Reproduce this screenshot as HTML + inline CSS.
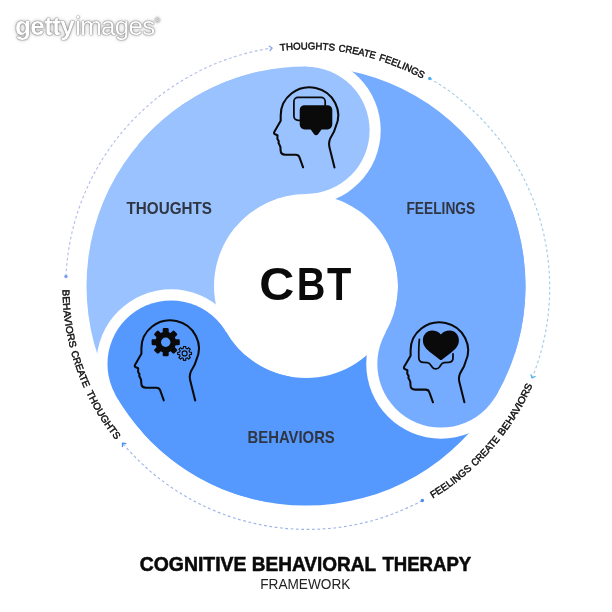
<!DOCTYPE html>
<html><head><meta charset="utf-8"><title>CBT</title>
<style>
html,body{margin:0;padding:0;background:#fff;}
body{width:612px;height:612px;overflow:hidden;position:relative;font-family:"Liberation Sans",sans-serif;}
svg{position:absolute;left:0;top:0;will-change:transform;}
svg text{font-family:"Liberation Sans",sans-serif;}
.wm{position:absolute;left:15px;top:6px;font-size:26px;line-height:30px;color:#fff;letter-spacing:-0.6px;white-space:nowrap;
will-change:transform;text-shadow:0 0 1px rgba(0,0,0,.65),0 0 2px rgba(0,0,0,.45),0 0 4px rgba(0,0,0,.25);}
.wm .b{font-weight:bold;}
.wm .l{font-weight:normal;letter-spacing:-0.75px;margin-left:1px;}
.wm .r{font-size:8px;vertical-align:12px;letter-spacing:0;}
</style></head><body>
<svg width="612" height="612" viewBox="0 0 612 612">
<defs><path id="w1" d="M280.26,50.99 A238.0,238.0 0 0 1 334.56,50.92"/><path id="w2" d="M338.27,51.37 A238.0,238.0 0 0 1 374.90,59.08"/><path id="w3" d="M378.55,60.19 A238.0,238.0 0 0 1 422.39,78.86"/><path id="w4" d="M432.63,498.39 A245.2,245.2 0 0 0 472.25,469.19"/><path id="w5" d="M474.99,466.67 A245.2,245.2 0 0 0 500.13,439.37"/><path id="w6" d="M502.62,436.16 A245.2,245.2 0 0 0 532.58,385.13"/><path id="w7" d="M62.51,289.63 A245.2,245.2 0 0 0 70.17,348.25"/><path id="w8" d="M71.08,351.69 A245.2,245.2 0 0 0 84.14,388.11"/><path id="w9" d="M86.20,392.57 A245.2,245.2 0 0 0 115.80,440.04"/></defs>
<path d="M115.91,395.85 A219.5,219.5 0 0 1 306.00,66.60 L306.00,194.10 A92.0,92.0 0 0 0 226.33,332.10 Z" fill="#99c2ff"/>
<path d="M306.00,66.60 A219.5,219.5 0 0 1 496.09,395.85 L385.67,332.10 A92.0,92.0 0 0 0 306.00,194.10 Z" fill="#75acff"/>
<path d="M496.09,395.85 A219.5,219.5 0 0 1 115.91,395.85 L226.33,332.10 A92.0,92.0 0 0 0 385.67,332.10 Z" fill="#5599ff"/>
<circle cx="306.00" cy="130.30" r="74.70" fill="#fff"/><path d="M137.85,145.01 A219.5,219.5 0 0 1 307.15,66.60 L306.48,194.10 A92.0,92.0 0 0 0 235.52,226.96 Z" fill="#99c2ff"/><circle cx="306.00" cy="130.30" r="63.60" fill="#99c2ff"/>
<circle cx="440.93" cy="364.00" r="74.70" fill="#fff"/><path d="M512.26,211.03 A219.5,219.5 0 0 1 495.52,396.84 L385.43,332.52 A92.0,92.0 0 0 0 392.45,254.63 Z" fill="#75acff"/><circle cx="440.93" cy="364.00" r="63.60" fill="#75acff"/>
<circle cx="171.07" cy="364.00" r="74.70" fill="#fff"/><path d="M267.88,502.27 A219.5,219.5 0 0 1 115.34,394.85 L226.09,331.68 A92.0,92.0 0 0 0 290.02,376.70 Z" fill="#5599ff"/><circle cx="171.07" cy="364.00" r="63.60" fill="#5599ff"/>
<g transform="translate(309.1,87.4)"><path d="M25.4,80.0 L20.3,59.5 C19.0,54.5 20.6,51.3 22.9,47.8 C24.6,45.2 25.7,42.6 26.41,39.83 A28.75,28 0 1 0 -28.4,28 L-28.4,33.4 L-34.7,44.3 C-35.4,45.5 -35.2,46.3 -34.0,46.8 L-31.6,47.9 L-31.7,51.5 L-30.3,53.8 L-30.6,55.6 L-29.6,57.4 L-28.7,59.6 L-28.5,63.0 C-28.4,66.2 -26.6,67.3 -23.8,67.3 L-13.4,67.3 C-11.4,67.3 -10.3,68.0 -9.7,69.8 L-6.0,80.0" fill="none" stroke="#0a0a0a" stroke-width="2.05" stroke-linecap="round" stroke-linejoin="round"/><g transform="translate(0.8,0)"><path d="M-9.0,32.9 L-11.8,32.9 A4.2,4.2 0 0 1 -16,28.7 L-16,14.2 A4.2,4.2 0 0 1 -11.8,10 L11.1,10 A4.2,4.2 0 0 1 15.3,14.2 L15.3,18" fill="none" stroke="#0a0a0a" stroke-width="1.75" stroke-linecap="round"/><path d="M-5.4,17.8 L17.6,17.8 A4.8,4.8 0 0 1 22.4,22.6 L22.4,37.2 A4.8,4.8 0 0 1 17.6,42 L11.6,42 L8.2,46.9 A2.4,2.4 0 0 1 4.2,46.9 L0.8,42 L-5.4,42 A4.8,4.8 0 0 1 -10.2,37.2 L-10.2,22.6 A4.8,4.8 0 0 1 -5.4,17.8 Z" fill="#0a0a0a"/></g></g>
<g transform="translate(439.0,322.3)"><path d="M25.4,80.0 L20.3,59.5 C19.0,54.5 20.6,51.3 22.9,47.8 C24.6,45.2 25.7,42.6 26.41,39.83 A28.75,28 0 1 0 -28.4,28 L-28.4,33.4 L-34.7,44.3 C-35.4,45.5 -35.2,46.3 -34.0,46.8 L-31.6,47.9 L-31.7,51.5 L-30.3,53.8 L-30.6,55.6 L-29.6,57.4 L-28.7,59.6 L-28.5,63.0 C-28.4,66.2 -26.6,67.3 -23.8,67.3 L-13.4,67.3 C-11.4,67.3 -10.3,68.0 -9.7,69.8 L-6.0,80.0" fill="none" stroke="#0a0a0a" stroke-width="2.05" stroke-linecap="round" stroke-linejoin="round"/><path d="M1.9,12.2 C0,9.5 -3.5,8.3 -6.9,8.3 C-12.5,8.3 -16.1,12.8 -16.1,18.3 C-16.1,24 -12,27.5 -7.5,31 L0.6,37.2 Q1.9,38.2 3.2,37.2 L11.3,31 C15.8,27.5 19.9,24 19.9,18.3 C19.9,12.8 16.3,8.3 10.7,8.3 C7.3,8.3 3.8,9.5 1.9,12.2 Z" fill="#0a0a0a"/><path d="M-19.6,17.1 C-20.2,22 -20.3,30 -20.2,35.4 C-20.1,38.6 -18.6,40.0 -15.6,40.1 L-11.6,40.3 C-9.3,40.4 -8.4,42.4 -6.9,44.6 C-5.2,47.2 -1.2,47.4 0.6,44.6 C2.0,42.4 2.6,40.5 5.0,40.3 L9.9,40.0 C12.8,39.8 14.0,38.6 14.0,36.0 L14.0,31.5" fill="none" stroke="#0a0a0a" stroke-width="1.75" stroke-linecap="round" stroke-linejoin="round"/></g>
<g transform="translate(169.8,320.4)"><path d="M25.4,80.0 L20.3,59.5 C19.0,54.5 20.6,51.3 22.9,47.8 C24.6,45.2 25.7,42.6 26.41,39.83 A28.75,28 0 1 0 -28.4,28 L-28.4,33.4 L-34.7,44.3 C-35.4,45.5 -35.2,46.3 -34.0,46.8 L-31.6,47.9 L-31.7,51.5 L-30.3,53.8 L-30.6,55.6 L-29.6,57.4 L-28.7,59.6 L-28.5,63.0 C-28.4,66.2 -26.6,67.3 -23.8,67.3 L-13.4,67.3 C-11.4,67.3 -10.3,68.0 -9.7,69.8 L-6.0,80.0" fill="none" stroke="#0a0a0a" stroke-width="2.05" stroke-linecap="round" stroke-linejoin="round"/><g transform="translate(-4.10,21.80)" fill="#0a0a0a"><circle r="10.4"/><rect x="-3.0" y="-14.1" width="6.0" height="8" rx="1.3" transform="rotate(0)"/><rect x="-3.0" y="-14.1" width="6.0" height="8" rx="1.3" transform="rotate(45)"/><rect x="-3.0" y="-14.1" width="6.0" height="8" rx="1.3" transform="rotate(90)"/><rect x="-3.0" y="-14.1" width="6.0" height="8" rx="1.3" transform="rotate(135)"/><rect x="-3.0" y="-14.1" width="6.0" height="8" rx="1.3" transform="rotate(180)"/><rect x="-3.0" y="-14.1" width="6.0" height="8" rx="1.3" transform="rotate(225)"/><rect x="-3.0" y="-14.1" width="6.0" height="8" rx="1.3" transform="rotate(270)"/><rect x="-3.0" y="-14.1" width="6.0" height="8" rx="1.3" transform="rotate(315)"/><circle r="4.7" fill="#5599ff"/></g><path d="M19.86,31.79 L21.71,31.85 L21.71,34.15 L19.86,34.21 L19.23,35.72 L20.50,37.07 L18.87,38.70 L17.52,37.43 L16.01,38.06 L15.95,39.91 L13.65,39.91 L13.59,38.06 L12.08,37.43 L10.73,38.70 L9.10,37.07 L10.37,35.72 L9.74,34.21 L7.89,34.15 L7.89,31.85 L9.74,31.79 L10.37,30.28 L9.10,28.93 L10.73,27.30 L12.08,28.57 L13.59,27.94 L13.65,26.09 L15.95,26.09 L16.01,27.94 L17.52,28.57 L18.87,27.30 L20.50,28.93 L19.23,30.28 Z" fill="none" stroke="#0a0a0a" stroke-width="1.15" stroke-linejoin="round"/><circle cx="14.80" cy="33.00" r="2.5" fill="none" stroke="#0a0a0a" stroke-width="1.15"/></g>
<text transform="translate(126.53,213.7) scale(0.9344,1)" font-size="16.3" font-weight="bold" fill="#2f3542" >THOUGHTS</text>
<text transform="translate(406.39,213.7) scale(0.8446,1)" font-size="16.3" font-weight="bold" fill="#2f3542" >FEELINGS</text>
<text transform="translate(247.62,442.9) scale(0.9118,1)" font-size="16.3" font-weight="bold" fill="#2f3542" >BEHAVIORS</text>
<text transform="translate(139.70,570.9) scale(0.9901,1)" font-size="19.6" font-weight="bold" fill="#0a0a0a" stroke="#0a0a0a" stroke-width="0.55">COGNITIVE</text>
<text transform="translate(251.84,570.9) scale(0.9711,1)" font-size="19.6" font-weight="bold" fill="#0a0a0a" stroke="#0a0a0a" stroke-width="0.55">BEHAVIORAL</text>
<text transform="translate(382.40,570.9) scale(0.9493,1)" font-size="19.6" font-weight="bold" fill="#0a0a0a" stroke="#0a0a0a" stroke-width="0.55">THERAPY</text>
<text transform="translate(260.18,589.4) scale(0.8925,1)" font-size="15.3" font-weight="normal" fill="#222" >FRAMEWORK</text>
<text transform="translate(259.31,300.0) scale(1.0653,1)" font-size="45.5" font-weight="bold" fill="#0a0a0a">C</text>
<text transform="translate(296.69,300.0) scale(0.8705,1)" font-size="45.5" font-weight="bold" fill="#0a0a0a">B</text>
<text transform="translate(326.96,300.0) scale(0.8754,1)" font-size="45.5" font-weight="bold" fill="#0a0a0a">T</text>
<path d="M65.95,276.51 A242.0,242.0 0 0 1 271.78,48.08" fill="none" stroke="#b4bdec" stroke-width="1.15" stroke-dasharray="2.8 2.55"/><circle cx="65.95" cy="276.51" r="1.7" fill="#7d9cf5"/><path d="M-2.1,-2.2 L0.4,0 L-2.1,2.2" transform="translate(271.78,48.08) rotate(-8.54)" fill="none" stroke="#8ea6f5" stroke-width="1.3" stroke-linecap="round" stroke-linejoin="round"/>
<path d="M429.75,78.43 A242.0,242.0 0 0 1 532.25,377.64" fill="none" stroke="#a3cdea" stroke-width="1.15" stroke-dasharray="2.8 2.55"/><circle cx="429.75" cy="78.43" r="1.7" fill="#4ab0ee"/><path d="M-2.1,-2.2 L0.4,0 L-2.1,2.2" transform="translate(532.25,377.64) rotate(111.89)" fill="none" stroke="#4ab0ee" stroke-width="1.3" stroke-linecap="round" stroke-linejoin="round"/>
<path d="M422.37,500.51 A242.0,242.0 0 0 1 122.78,443.50" fill="none" stroke="#9db4e8" stroke-width="1.15" stroke-dasharray="2.8 2.55"/><circle cx="422.37" cy="500.51" r="1.7" fill="#4a8df5"/><path d="M-2.1,-2.2 L0.4,0 L-2.1,2.2" transform="translate(122.78,443.50) rotate(229.83)" fill="none" stroke="#4a8df5" stroke-width="1.3" stroke-linecap="round" stroke-linejoin="round"/>
<text font-size="9.9" font-weight="normal" fill="#111" stroke="#111" stroke-width="0.45" textLength="54.42" lengthAdjust="spacingAndGlyphs"><textPath href="#w1" startOffset="0">THOUGHTS</textPath></text>
<text font-size="9.9" font-weight="normal" fill="#111" stroke="#111" stroke-width="0.45" textLength="37.47" lengthAdjust="spacingAndGlyphs"><textPath href="#w2" startOffset="0">CREATE</textPath></text>
<text font-size="9.9" font-weight="normal" fill="#111" stroke="#111" stroke-width="0.45" textLength="47.73" lengthAdjust="spacingAndGlyphs"><textPath href="#w3" startOffset="0">FEELINGS</textPath></text>
<text font-size="9.9" font-weight="normal" fill="#111" stroke="#111" stroke-width="0.45" textLength="49.30" lengthAdjust="spacingAndGlyphs"><textPath href="#w4" startOffset="0">FEELINGS</textPath></text>
<text font-size="9.9" font-weight="normal" fill="#111" stroke="#111" stroke-width="0.45" textLength="37.15" lengthAdjust="spacingAndGlyphs"><textPath href="#w5" startOffset="0">CREATE</textPath></text>
<text font-size="9.9" font-weight="normal" fill="#111" stroke="#111" stroke-width="0.45" textLength="59.31" lengthAdjust="spacingAndGlyphs"><textPath href="#w6" startOffset="0">BEHAVIORS</textPath></text>
<text font-size="9.9" font-weight="normal" fill="#111" stroke="#111" stroke-width="0.45" textLength="59.27" lengthAdjust="spacingAndGlyphs"><textPath href="#w7" startOffset="0">BEHAVIORS</textPath></text>
<text font-size="9.9" font-weight="normal" fill="#111" stroke="#111" stroke-width="0.45" textLength="38.73" lengthAdjust="spacingAndGlyphs"><textPath href="#w8" startOffset="0">CREATE</textPath></text>
<text font-size="9.9" font-weight="normal" fill="#111" stroke="#111" stroke-width="0.45" textLength="56.06" lengthAdjust="spacingAndGlyphs"><textPath href="#w9" startOffset="0">THOUGHTS</textPath></text>
</svg>
<div class="wm"><span class="b">getty</span><span class="l">images</span><span class="r">&#174;</span></div>
</body></html>
